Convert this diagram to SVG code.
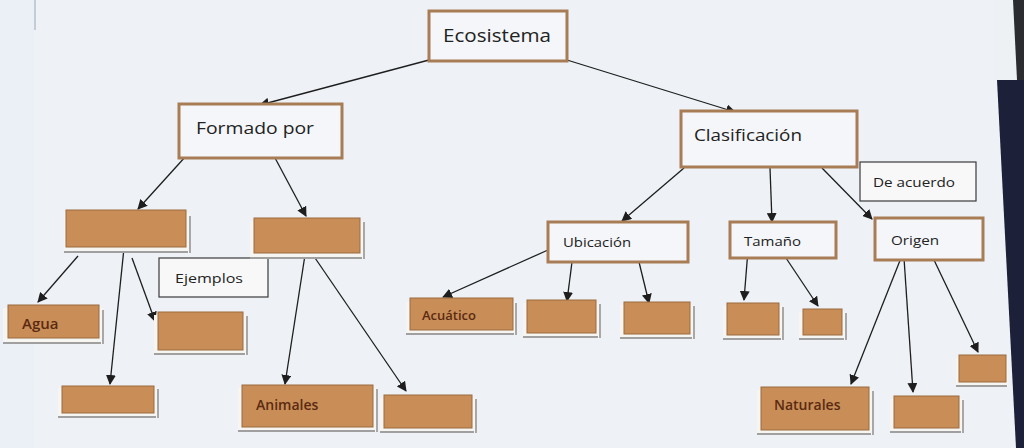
<svg xmlns="http://www.w3.org/2000/svg" width="1024" height="448" viewBox="0 0 1024 448">
<style>
.bg{fill:#eef2f7}
.wbox{fill:#f4f6f9;stroke:#a87c55;stroke-width:3}
.tbox{fill:#f8f8f8;stroke:#3a3a3a;stroke-width:1.2}
.tan{fill:#c98e57;stroke:#9a6a3e;stroke-width:1}
.sh{fill:#f7f5f1}
.shl{fill:none;stroke:#a0a0a0;stroke-width:1.8}
.lbl{font-family:"Open Sans","Noto Sans",sans-serif;fill:#222}
.tl{font-family:"Open Sans","Noto Sans",sans-serif;fill:#5a2a12;font-weight:600}
.con line{stroke:#1e1e1e;stroke-width:1.3;marker-end:url(#ah)}
</style>
<defs>
<marker id="ah" viewBox="0 0 10 10" refX="9" refY="5" markerWidth="10" markerHeight="10" markerUnits="userSpaceOnUse" orient="auto">
<path d="M0,0 L10,5 L0,10 z" fill="#1e1e1e"/>
</marker>
</defs>
<rect class="bg" x="0" y="0" width="1024" height="448"/>
<rect x="0" y="0" width="34" height="448" fill="#ebf0f6"/>
<line x1="35" y1="0" x2="35" y2="30" stroke="#9aa6b2" stroke-width="1"/>
<polygon points="994,0 1024,0 1024,80 994,80" fill="#eef1f4"/>
<polygon points="1013,0 1024,0 1024,80 1017,80" fill="#2a2c30"/>
<polygon points="997,80 1024,80 1024,448 1016,448" fill="#1c2038"/>

<g class="con" id="connectors">
<line x1="429" y1="60" x2="260" y2="105"/>
<line x1="567" y1="60" x2="735" y2="112"/>
<line x1="186" y1="156" x2="138" y2="209"/>
<line x1="274" y1="156" x2="306" y2="216"/>
<line x1="78" y1="256" x2="38" y2="302"/>
<line x1="124" y1="248" x2="110" y2="384"/>
<line x1="132" y1="258" x2="155" y2="321"/>
<line x1="305" y1="255" x2="285" y2="384"/>
<line x1="313" y1="255" x2="406" y2="391"/>
<line x1="684" y1="168" x2="622" y2="221"/>
<line x1="770" y1="168" x2="772" y2="222"/>
<line x1="822" y1="168" x2="872" y2="219"/>
<line x1="548" y1="250" x2="443" y2="297"/>
<line x1="572" y1="262" x2="567" y2="301"/>
<line x1="639" y1="262" x2="649" y2="303"/>
<line x1="748" y1="250" x2="744" y2="300"/>
<line x1="786" y1="258" x2="818" y2="306"/>
<line x1="901" y1="258" x2="851" y2="384"/>
<line x1="904" y1="258" x2="913" y2="392"/>
<line x1="934" y1="260" x2="978" y2="352"/>
</g>

<g id="ecosistema"><rect class="wbox" x="429" y="11" width="138" height="50"/><text class="lbl" x="443" y="42" font-size="18" textLength="108" lengthAdjust="spacingAndGlyphs">Ecosistema</text></g>
<g id="formado"><rect class="wbox" x="179" y="104" width="163" height="54"/><text class="lbl" x="196" y="134" font-size="17" textLength="118" lengthAdjust="spacingAndGlyphs">Formado por</text></g>
<g id="clasificacion"><rect class="wbox" x="681" y="111" width="176" height="56"/><text class="lbl" x="694" y="141" font-size="17" textLength="108" lengthAdjust="spacingAndGlyphs">Clasificación</text></g>
<g id="deacuerdo"><rect class="tbox" x="860" y="162" width="116" height="39"/><text class="lbl" x="873" y="187" font-size="13.5" textLength="82" lengthAdjust="spacingAndGlyphs">De acuerdo</text></g>
<g id="ubicacion"><rect class="wbox" x="548" y="222" width="140" height="40"/><text class="lbl" x="563" y="247" font-size="13" textLength="68" lengthAdjust="spacingAndGlyphs">Ubicación</text></g>
<g id="tamano"><rect class="wbox" x="730" y="222" width="106" height="36"/><text class="lbl" x="744" y="246" font-size="13" textLength="57" lengthAdjust="spacingAndGlyphs">Tamaño</text></g>
<g id="origen"><rect class="wbox" x="875" y="218" width="108" height="42"/><text class="lbl" x="891" y="245" font-size="13.5" textLength="48" lengthAdjust="spacingAndGlyphs">Origen</text></g>
<g id="ejemplos"><rect class="tbox" x="159" y="258" width="109" height="39"/><text class="lbl" x="175" y="283" font-size="13.5" textLength="68" lengthAdjust="spacingAndGlyphs">Ejemplos</text></g>

<g id="n1"><rect class="sh" x="64" y="213" width="126" height="40"/><path class="shl" d="M64,252 H188 M190,216 V253"/><rect class="tan" x="66" y="210" width="120" height="37"/></g>
<g id="n2"><rect class="sh" x="250" y="221" width="114" height="38"/><path class="shl" d="M250,258 H362 M364,222 V259"/><rect class="tan" x="254" y="218" width="106" height="35"/></g>
<g id="agua"><rect class="sh" x="3" y="308" width="100" height="36"/><path class="shl" d="M3,343 H101 M103,310 V344"/><rect class="tan" x="8" y="305" width="91" height="33"/><text class="tl" x="22" y="329" font-size="15">Agua</text></g>
<g id="n3"><rect class="sh" x="154" y="315" width="93" height="40"/><path class="shl" d="M154,354 H245 M247,316 V355"/><rect class="tan" x="158" y="312" width="85" height="38"/></g>
<g id="n4"><rect class="sh" x="58" y="388" width="100" height="30"/><path class="shl" d="M58,417 H156 M158,389 V418"/><rect class="tan" x="62" y="386" width="92" height="27"/></g>
<g id="animales"><rect class="sh" x="238" y="388" width="139" height="44"/><path class="shl" d="M238,431 H375 M377,389 V432"/><rect class="tan" x="242" y="385" width="131" height="42"/><text class="tl" x="256" y="410" font-size="14" font-weight="400" fill="#4a2a14">Animales</text></g>
<g id="n5"><rect class="sh" x="380" y="398" width="96" height="35"/><path class="shl" d="M380,432 H474 M476,399 V433"/><rect class="tan" x="384" y="395" width="88" height="33"/></g>
<g id="acuatico"><rect class="sh" x="406" y="302" width="110" height="33"/><path class="shl" d="M406,334 H514 M516,303 V335"/><rect class="tan" x="410" y="298" width="103" height="32"/><text class="tl" x="422" y="320" font-size="13" font-weight="400" fill="#4a2a14">Acuático</text></g>
<g id="n6"><rect class="sh" x="523" y="303" width="77" height="35"/><path class="shl" d="M523,337 H598 M600,304 V338"/><rect class="tan" x="527" y="300" width="69" height="33"/></g>
<g id="n7"><rect class="sh" x="620" y="305" width="74" height="34"/><path class="shl" d="M620,338 H692 M694,306 V339"/><rect class="tan" x="624" y="302" width="66" height="32"/></g>
<g id="n8"><rect class="sh" x="723" y="306" width="60" height="34"/><path class="shl" d="M723,339 H781 M783,307 V340"/><rect class="tan" x="727" y="303" width="52" height="32"/></g>
<g id="n9"><rect class="sh" x="799" y="312" width="47" height="28"/><path class="shl" d="M799,339 H844 M846,313 V340"/><rect class="tan" x="803" y="309" width="39" height="26"/></g>
<g id="naturales"><rect class="sh" x="757" y="390" width="116" height="45"/><path class="shl" d="M757,434 H871 M873,391 V435"/><rect class="tan" x="761" y="387" width="108" height="43"/><text class="tl" x="774" y="410" font-size="14" fill="#4a2a14">Naturales</text></g>
<g id="n10"><rect class="sh" x="890" y="399" width="73" height="34"/><path class="shl" d="M890,432 H961 M963,400 V433"/><rect class="tan" x="894" y="396" width="65" height="32"/></g>
<g id="n11"><rect class="sh" x="956" y="358" width="52" height="29"/><path class="shl" d="M956,386 H1007"/><rect class="tan" x="959" y="355" width="47" height="27"/></g>
</svg>
